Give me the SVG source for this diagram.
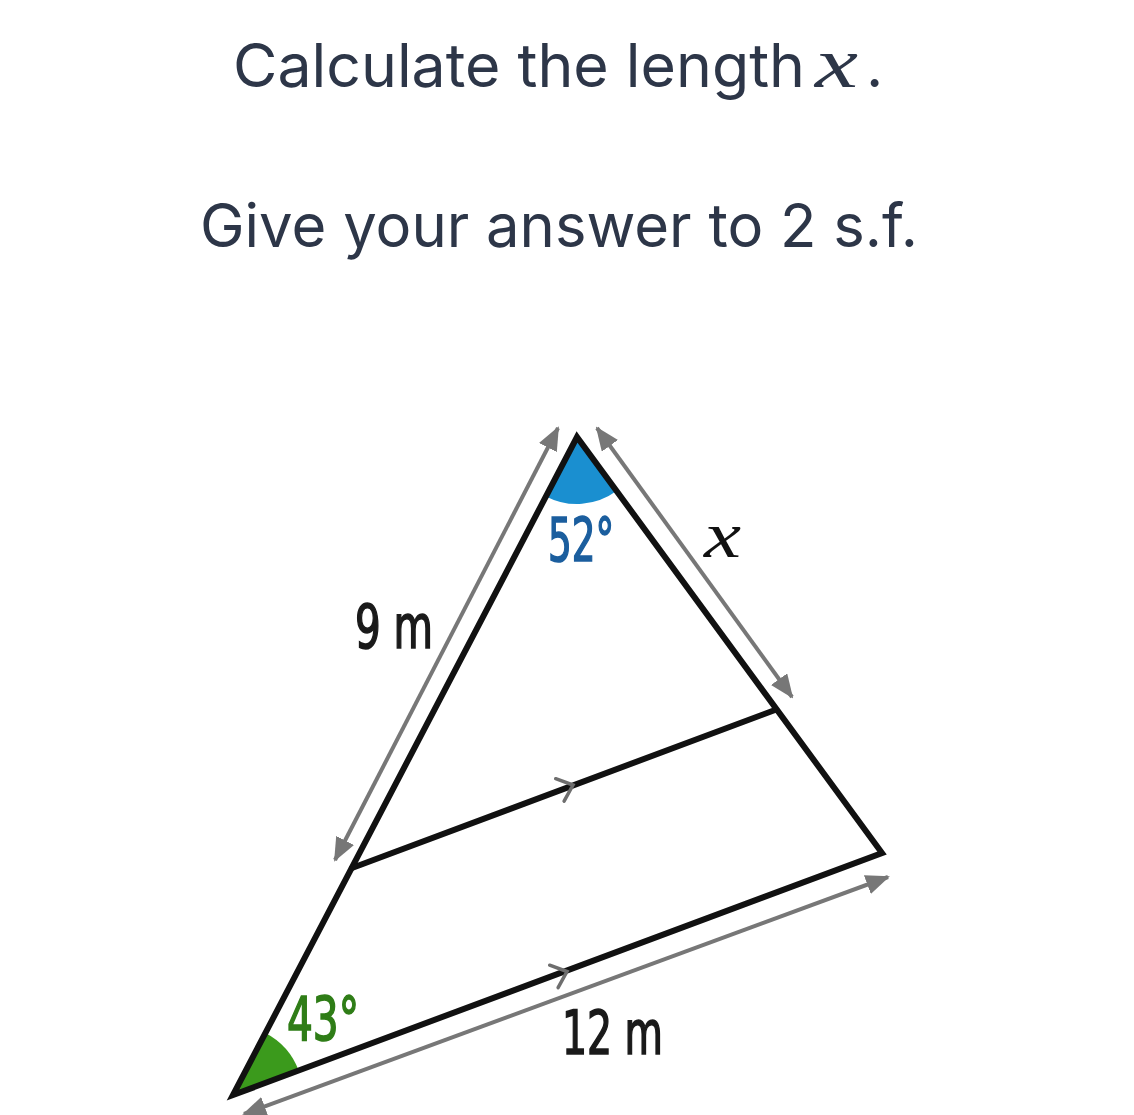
<svg xmlns="http://www.w3.org/2000/svg" width="1134" height="1115" viewBox="0 0 1134 1115">
<style>
.title{font-family:Inter,"Liberation Sans",sans-serif;font-size:60px;fill:#2d3648}
.math{font-family:"Liberation Serif","DejaVu Serif",serif;font-style:italic}
.edge{stroke:#111;stroke-width:6;fill:none;stroke-linejoin:miter;stroke-linecap:round}
.dim{stroke:#777;stroke-width:4;fill:none}
.chev{stroke:#6e6e6e;stroke-width:3.5;fill:none;stroke-linecap:round}
.lbl{font-family:"Liberation Sans Narrow","DejaVu Sans Condensed","Liberation Sans",sans-serif;font-size:60px;fill:#1a1a1a;stroke:#1a1a1a;stroke-width:1.6}
</style>
<defs>
<marker id="ah" viewBox="0 0 24 20" refX="22" refY="10" markerWidth="24" markerHeight="20" markerUnits="userSpaceOnUse" orient="auto-start-reverse">
<path d="M0,0 L24,10 L0,20 Z" fill="#777"/>
</marker>
</defs>
<rect width="1134" height="1115" fill="#fff"/>
<g id="title">
<text class="title" x="233" y="87"><tspan textLength="572" lengthAdjust="spacingAndGlyphs">Calculate the length</tspan><tspan class="math" x="815" font-size="72" textLength="43" lengthAdjust="spacingAndGlyphs">x</tspan><tspan x="866">.</tspan></text>
<text class="title" x="200" y="247" textLength="718" lengthAdjust="spacingAndGlyphs">Give your answer to 2 s.f.</text>
</g>
<g id="angle-apex">
<path d="M577,437 L546,496.4 A67,67 0 0 0 616.5,491.1 Z" fill="#1a8fd0"/>
</g>
<g id="angle-base">
<path d="M233,1095 L265.4,1033 A70,70 0 0 1 298.7,1070.7 Z" fill="#3b9a1c"/>
</g>
<g id="triangle">
<path class="edge" d="M577,437 L882,853 L233,1095 Z"/>
</g>
<g id="parallel-line">
<line class="edge" x1="352" y1="868" x2="775" y2="710"/>
</g>
<g id="connectors">
<line class="dim" x1="558" y1="428" x2="335" y2="860" marker-start="url(#ah)" marker-end="url(#ah)"/>
<line class="dim" x1="597" y1="428" x2="792" y2="697" marker-start="url(#ah)" marker-end="url(#ah)"/>
<line class="dim" x1="244" y1="1114" x2="888" y2="877" marker-start="url(#ah)" marker-end="url(#ah)"/>
<path class="chev" d="M555.7,778.7 L573,785 L564.1,801.1"/>
<path class="chev" d="M549.7,965.2 L567,971.5 L558.1,987.6"/>
</g>
<g id="labels">
<text class="lbl" x="548" y="561" style="fill:#1b5e9e;stroke:#1b5e9e" textLength="66" lengthAdjust="spacingAndGlyphs">52°</text>
<text class="math" x="704" y="557" font-size="66" fill="#111" textLength="37" lengthAdjust="spacingAndGlyphs">x</text>
<text class="lbl" x="355" y="648" textLength="78" lengthAdjust="spacingAndGlyphs">9 m</text>
<text class="lbl" x="287" y="1040" style="fill:#2f7d17;stroke:#2f7d17" textLength="72" lengthAdjust="spacingAndGlyphs">43°</text>
<text class="lbl" x="562" y="1054" textLength="101" lengthAdjust="spacingAndGlyphs">12 m</text>
</g>
</svg>
